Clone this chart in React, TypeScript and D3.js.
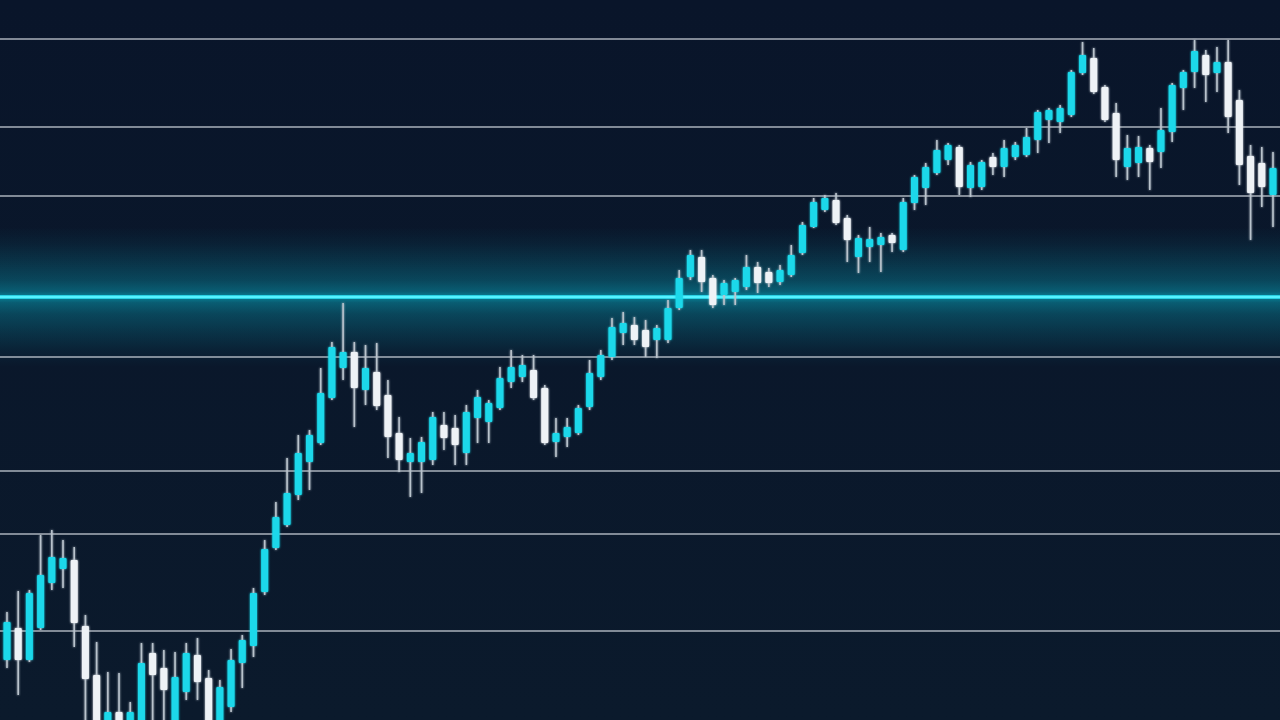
import React from "react";
import * as d3 from "d3";

// OHLC values (price units)
const opens = [60,92,60,92,137,151,160,94,45,-10,8,-15,-5,67,52,-5,28,65,42,-5,13,57,74,128,172,195,225,258,277,322,352,368,330,348,325,287,258,258,260,295,292,267,302,298,312,338,343,350,332,278,283,287,313,343,363,387,395,390,380,380,412,443,463,442,425,428,433,453,448,438,445,467,493,510,520,502,463,473,475,485,470,517,532,547,560,573,532,533,563,553,563,565,580,600,598,605,647,662,633,607,553,557,572,568,588,632,648,665,647,658,620,564,557,525];
const highs = [108,129,130,185,190,180,173,105,78,48,47,18,77,77,70,68,77,82,50,40,71,85,132,180,218,262,285,290,352,378,417,378,375,377,340,303,282,283,308,308,305,315,330,320,353,370,365,365,335,302,302,315,360,370,402,408,403,400,395,420,450,470,470,445,440,442,465,458,452,455,475,498,522,525,527,505,485,493,487,487,522,545,557,580,577,575,558,560,567,580,578,592,610,612,615,650,678,672,635,617,585,584,575,612,637,650,680,670,673,680,630,575,573,568];
const lows = [52,25,58,90,130,132,73,-10,-20,-20,-20,-20,-10,-5,-5,-10,20,20,-10,-10,8,32,63,125,170,193,220,230,275,320,340,293,315,310,262,248,223,227,255,270,255,255,277,277,310,332,338,320,275,263,273,285,310,340,360,375,375,363,362,377,410,440,428,412,415,415,430,427,433,435,443,465,492,508,495,458,447,458,448,468,468,510,515,545,555,525,523,530,545,543,560,563,567,577,587,603,645,626,598,543,540,543,530,552,578,610,632,618,628,587,535,480,513,493];
const closes = [98,60,127,145,163,162,97,41,-10,8,-10,8,57,45,30,43,67,38,-5,33,60,80,127,171,203,227,267,285,327,373,368,332,352,314,283,260,267,278,303,282,275,308,323,317,342,353,355,322,277,287,293,312,347,365,393,397,380,373,392,412,442,465,438,415,437,440,453,437,437,450,465,495,518,522,497,480,482,481,483,477,518,543,553,570,575,533,555,558,553,572,575,583,608,610,612,648,665,628,600,560,572,573,558,590,635,648,669,645,658,603,555,527,533,552];

// Horizontal support / resistance levels
const levels = [681, 593, 524, 363, 249, 186, 89];
// Highlighted (glowing) level
const keyLevel = [423];

const W = 1280;
const H = 720;

const glowStops: [number, number][] = [
  [0, 0],
  [0.12, 0.06],
  [0.25, 0.16],
  [0.38, 0.27],
  [0.46, 0.4],
  [0.5, 0.6],
  [0.54, 0.4],
  [0.62, 0.27],
  [0.75, 0.16],
  [0.88, 0.06],
  [1, 0],
];

export default function App() {
  const n = opens.length;
  const x = d3.scaleLinear().domain([0, n - 1]).range([7, 1273]);
  const y = d3.scaleLinear().domain([0, 720]).range([H, 0]);
  const bodyW = 7;
  const cyan = "#1ad8ea";
  const white = "#eef2f6";
  const wick = "#b9c3cc";
  const ky = y(keyLevel[0]);
  const band = 140;

  return (
    <svg
      width={W}
      height={H}
      style={{ position: "fixed", left: 0, top: 0, display: "block" }}
    >
      <defs>
        <linearGradient id="glowBand" x1="0" y1="0" x2="0" y2="1">
          {glowStops.map(([o, a], i) => (
            <stop key={i} offset={o} stopColor="#08c6de" stopOpacity={a} />
          ))}
        </linearGradient>
        <filter id="blur6" x="-10%" y="-400%" width="120%" height="900%">
          <feGaussianBlur stdDeviation="4" />
        </filter>
        <filter id="soft" x="-50%" y="-50%" width="200%" height="200%">
          <feGaussianBlur stdDeviation="1.2" result="b" />
          <feMerge>
            <feMergeNode in="b" />
            <feMergeNode in="SourceGraphic" />
          </feMerge>
        </filter>
        <linearGradient id="bg" x1="0" y1="0" x2="0" y2="1">
          <stop offset="0" stopColor="#09152a" />
          <stop offset="1" stopColor="#0b1a2c" />
        </linearGradient>
      </defs>
      <rect x={0} y={0} width={W} height={H} fill="url(#bg)" />
      <rect x={0} y={ky - band / 2} width={W} height={band} fill="url(#glowBand)" />
      {levels.map((l, i) => (
        <line
          key={"lv" + i}
          x1={0}
          x2={W}
          y1={y(l)}
          y2={y(l)}
          stroke="#c6ccd4"
          strokeWidth={1.7}
          opacity={0.85}
        />
      ))}
      <line x1={0} x2={W} y1={ky} y2={ky} stroke="#1ee8ff" strokeWidth={10} opacity={0.6} filter="url(#blur6)" />
      <line x1={0} x2={W} y1={ky} y2={ky} stroke="#33eeff" strokeWidth={3.5} />
      <line x1={0} x2={W} y1={ky} y2={ky} stroke="#a8fbff" strokeWidth={1} opacity={0.6} />
      <g filter="url(#soft)">
        {opens.map((o, i) => {
          const c = closes[i];
          const up = c >= o;
          const top = y(Math.max(o, c));
          const bot = y(Math.min(o, c));
          const cx = x(i);
          return (
            <g key={"c" + i}>
              <line x1={cx} x2={cx} y1={y(highs[i])} y2={y(lows[i])} stroke={wick} strokeWidth={1.6} />
              <rect
                x={cx - bodyW / 2}
                y={top}
                width={bodyW}
                height={Math.max(2, bot - top)}
                rx={1}
                fill={up ? cyan : white}
              />
            </g>
          );
        })}
      </g>
    </svg>
  );
}
